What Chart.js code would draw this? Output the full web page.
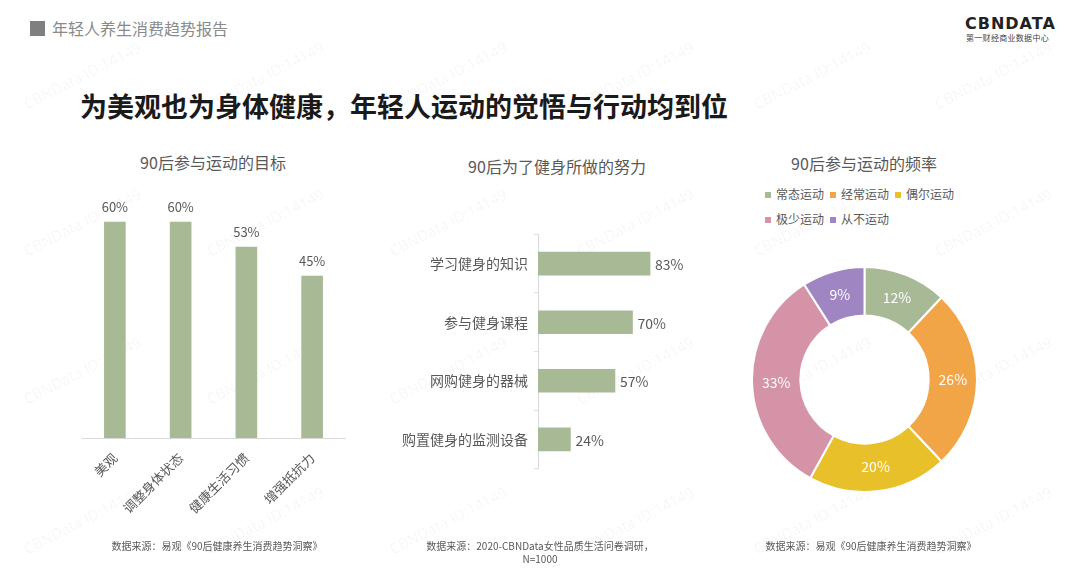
<!DOCTYPE html>
<html><head><meta charset="utf-8">
<script src="https://cdn.jsdelivr.net/npm/chart.js@4"></script>
<style>
html,body{margin:0;padding:0;background:#fff;}
body{width:1080px;height:571px;position:relative;overflow:hidden;font-family:"Noto Sans CJK SC","Noto Sans",sans-serif;}
.abs{position:absolute;}
.wm{position:absolute;color:rgba(0,0,0,0.05);font-family:"Open Sans",sans-serif;font-size:15px;white-space:nowrap;transform:translate(-50%,-50%) rotate(-27deg);}
.t{color:#595959;font-size:16px;white-space:nowrap;transform:translateX(-50%);}
.foot{color:#595959;font-size:10px;text-align:center;white-space:nowrap;transform:translateX(-50%);line-height:13px;}
canvas{position:absolute;}
</style></head><body>
<div id="wms"></div>
<div class="abs" style="left:30px;top:21px;width:15px;height:15px;background:#7f7f7f;"></div>
<div class="abs" style="left:52px;top:17px;font-size:16px;color:#8a8a8a;line-height:22px;">年轻人养生消费趋势报告</div>
<div class="abs" style="left:965px;top:14px;font-family:'DejaVu Sans',sans-serif;font-weight:bold;font-size:16px;letter-spacing:1px;color:#222;line-height:20px;">CB<span style="color:#222">N</span>DATA</div>
<div class="abs" style="left:966px;top:33px;font-size:8px;color:#444;line-height:10px;letter-spacing:0.3px;">第一财经商业数据中心</div>
<div class="abs" style="left:80px;top:88px;font-size:27px;font-weight:bold;color:#1a1a1a;line-height:36px;white-space:nowrap;">为美观也为身体健康，年轻人运动的觉悟与行动均到位</div>

<div class="abs t" style="left:213px;top:150px;">90后参与运动的目标</div>
<div class="abs t" style="left:557px;top:154px;">90后为了健身所做的努力</div>
<div class="abs t" style="left:864px;top:151px;">90后参与运动的频率</div>
<div id="legend" class="abs" style="left:765px;top:185px;width:220px;"></div>

<canvas id="c1" style="left:60px;top:170px;" width="300" height="370"></canvas>
<canvas id="c2" style="left:380px;top:220px;" width="330" height="263"></canvas>
<canvas id="c3" style="left:751px;top:266px;" width="227" height="227"></canvas>

<div class="abs foot" style="left:217px;top:539px;">数据来源：易观《90后健康养生消费趋势洞察》</div>
<div class="abs foot" style="left:540px;top:539px;">数据来源：2020-CBNData女性品质生活问卷调研，<br>N=1000</div>
<div class="abs foot" style="left:871px;top:539px;">数据来源：易观《90后健康养生消费趋势洞察》</div>

<script>
// ---- data ----
const goalCategories = ["美观","调整身体状态","健康生活习惯","增强抵抗力"];
const goalValues = [60,60,53,45];
const effortCategories = ["学习健身的知识","参与健身课程","网购健身的器械","购置健身的监测设备"];
const effortValues = [83,70,57,24];
const freqCategories = ["常态运动","经常运动","偶尔运动","极少运动","从不运动"];
const freqValues = [12,26,20,33,9];

const barColor = "#A8B996";
const freqColors = ["#A8B996","#F2A547","#E8C12A","#D493A7","#9F85C2"];
const textColor = "#595959";
const fontFam = '"Noto Sans CJK SC","Noto Sans",sans-serif';

// watermarks
(function(){
  const wms = document.getElementById('wms');
  const xs = [82,265,448,635,812,993];
  const ys = [75,222,370,520];
  ys.forEach(y=>xs.forEach(x=>{
    const d=document.createElement('div');d.className='wm';d.textContent='CBNData ID:14149';
    d.style.left=x+'px';d.style.top=y+'px';wms.appendChild(d);
  }));
})();

// legend
(function(){
  const lg=document.getElementById('legend');
  const rows=[[0,1,2],[3,4]];
  rows.forEach((r,ri)=>{
    const row=document.createElement('div');
    row.style.cssText='position:absolute;left:0;top:'+(ri*25)+'px;white-space:nowrap;font-size:12px;color:'+textColor+';line-height:18px;';
    r.forEach(i=>{
      const s=document.createElement('span');
      s.style.cssText='display:inline-block;margin-right:6px;';
      s.innerHTML='<span style="display:inline-block;width:6px;height:6px;background:'+freqColors[i]+';margin-right:5px;vertical-align:middle;position:relative;top:-1px;"></span>'+freqCategories[i];
      row.appendChild(s);
    });
    lg.appendChild(row);
  });
})();

const vLabels = {
  id:'vLabels',
  afterDatasetsDraw(chart, args, opts){
    const ctx=chart.ctx; const meta=chart.getDatasetMeta(0); const data=chart.data.datasets[0].data;
    ctx.save(); ctx.fillStyle=opts.color; ctx.font=opts.font;
    meta.data.forEach((el,i)=>{
      const txt=data[i]+'%';
      if(opts.mode==='top'){ctx.textAlign='center';ctx.textBaseline='middle';ctx.fillText(txt,el.x,el.y-15);}
      else if(opts.mode==='right'){ctx.textAlign='left';ctx.textBaseline='middle';ctx.fillText(txt,el.x+opts.offset,el.y+1);}
      else { const p=el.tooltipPosition(); ctx.textAlign='center';ctx.textBaseline='middle';ctx.fillText(txt,p.x,p.y); }
    });
    ctx.restore();
  }
};

new Chart(document.getElementById('c1'),{
  type:'bar',
  data:{labels:goalCategories,datasets:[{data:goalValues,backgroundColor:barColor,barThickness:21}]},
  options:{responsive:false,animation:false,
    layout:{padding:{left:22,right:15,top:16,bottom:0}},
    plugins:{legend:{display:false},tooltip:{enabled:false},
      vLabels:{mode:'top',color:textColor,font:'13px '+fontFam}},
    scales:{
      x:{grid:{display:false},border:{display:true,color:'#d9d9d9',width:1},
        ticks:{color:textColor,font:{size:13,family:fontFam},minRotation:45,maxRotation:45,padding:4},
        afterFit(s){s.height=102;}},
      y:{display:false,min:0,max:70}
    }},
  plugins:[vLabels]
});

new Chart(document.getElementById('c2'),{
  type:'bar',
  data:{labels:effortCategories,datasets:[{data:effortValues,backgroundColor:barColor,barThickness:23}]},
  options:{indexAxis:'y',responsive:false,animation:false,
    layout:{padding:{left:0,right:37,top:8,bottom:0}},
    plugins:{legend:{display:false},tooltip:{enabled:false},
      vLabels:{mode:'right',offset:5,color:textColor,font:'14px '+fontFam}},
    scales:{
      y:{grid:{display:true,drawOnChartArea:false,offset:true,tickLength:4,color:'#e0e0e0'},
        border:{display:true,color:'#d9d9d9',width:1},
        ticks:{color:textColor,font:{size:14,family:fontFam},padding:6},
        afterFit(s){s.width=158;}},
      x:{display:false,min:0,max:100}
    }},
  plugins:[vLabels]
});

new Chart(document.getElementById('c3'),{
  type:'doughnut',
  data:{labels:freqCategories,datasets:[{data:freqValues,backgroundColor:freqColors,borderColor:'#fff',borderWidth:2}]},
  options:{responsive:false,animation:false,cutout:'57%',
    plugins:{legend:{display:false},tooltip:{enabled:false},
      vLabels:{mode:'arc',color:'#fff',font:'14px '+fontFam}}},
  plugins:[vLabels]
});
</script>
</body></html>
